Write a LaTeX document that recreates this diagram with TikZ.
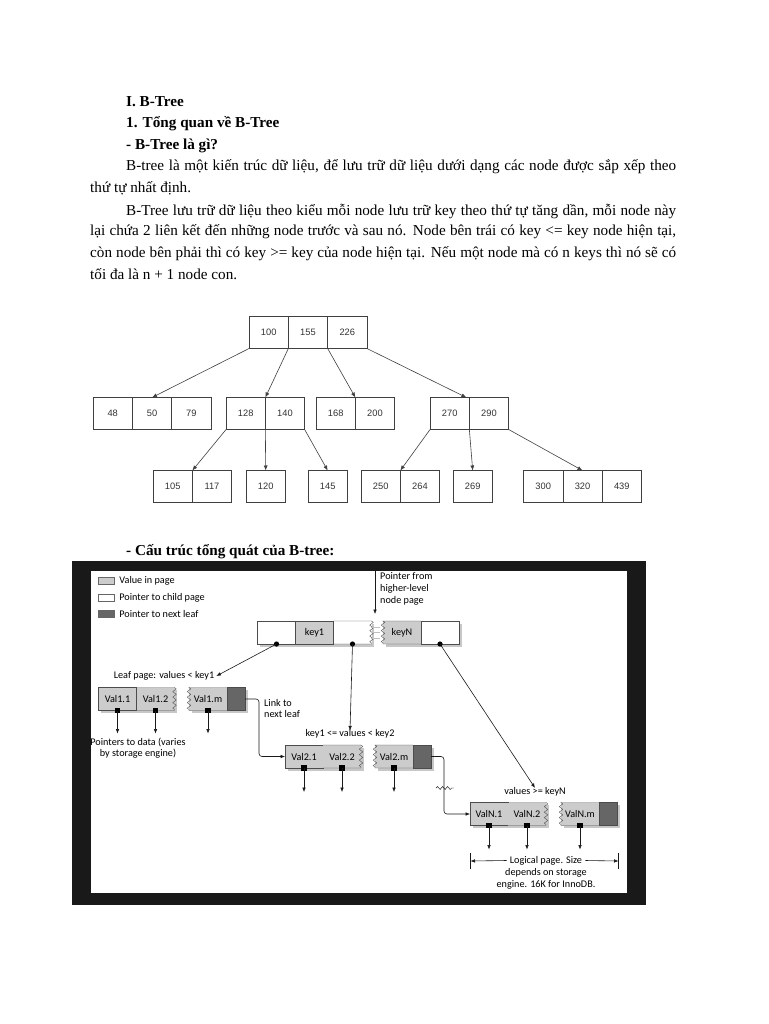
\documentclass[tikz,border=0pt]{standalone}
\usepackage{fontspec}
\setmainfont{Liberation Serif}
\newfontfamily\numfont{Liberation Sans}
\newfontfamily\figfont{Carlito}
\usetikzlibrary{arrows.meta,positioning,shadows,decorations.pathmorphing}

\begin{document}
\begin{tikzpicture}[x=1pt,y=-1pt,
  body/.style={anchor=base west,inner sep=0pt,font=\fontsize{15.2}{18}\selectfont},
  head/.style={body,font=\fontsize{15.2}{18}\selectfont\bfseries},
  key/.style={draw=black!75,minimum width=39.3pt,minimum height=32pt,outer sep=0pt,inner sep=0pt,
    text=black!80,font=\numfont\fontsize{9.3}{10}\selectfont},
  tarr/.style={-{Latex[length=5pt,width=4pt]},draw=black!75,line width=0.6pt},
  pg/.style={draw=black!70,fill=white,minimum width=38pt,minimum height=23pt,outer sep=0pt,inner sep=0pt,
    text=black,font=\figfont\fontsize{10.2}{11}\selectfont,
    drop shadow={shadow xshift=2.5pt,shadow yshift=-2.5pt,fill=black!22,opacity=1}},
  val/.style={pg,fill=black!20},
  nxt/.style={pg,fill=black!60,minimum width=18pt},
  torn/.style={draw=none},
  edge/.style={draw=black!70},
  zz/.style={decoration={zigzag,segment length=5.5pt,amplitude=1.8pt}},
  sqd/.style={fill=black,minimum size=5.5pt,inner sep=0pt,outer sep=0pt},
  ptr/.style={-{Latex[length=4.5pt,width=3.6pt]},draw=black!90,line width=0.6pt},
  lbl/.style={inner sep=0pt,text=black,font=\figfont\fontsize{10.2}{11}\selectfont},
  lg/.style={draw=black!60,minimum width=16pt,minimum height=7pt,inner sep=0pt}]
\useasboundingbox (0,0) rectangle (768,1024);
\fill[white] (0,0) rectangle (768,1024);

% Text
\node[head] (ttl) at (126,107) {I. B-Tree};
\node[head] (sub) at (126,128) {1. Tổng quan về B-Tree};
\node[head] (qst) at (126,150) {- B-Tree là gì?};
\node[body] (p1) at (126,171) {\makebox[550pt][s]{B-tree là một kiến trúc dữ liệu, để lưu trữ dữ liệu dưới dạng các node được sắp xếp theo}};
\node[body] (p2) at (90,193) {thứ tự nhất định.};
\node[body] (p3) at (126,215) {\makebox[550pt][s]{B-Tree lưu trữ dữ liệu theo kiểu mỗi node lưu trữ key theo thứ tự tăng dần, mỗi node này}};
\node[body] (p4) at (90,236) {\makebox[586pt][s]{lại chứa 2 liên kết đến những node trước và sau nó. Node bên trái có key <= key node hiện tại,}};
\node[body] (p5) at (90,258) {\makebox[586pt][s]{còn node bên phải thì có key >= key của node hiện tại. Nếu một node mà có n keys thì nó sẽ có}};
\node[body] (p6) at (90,279) {tối đa là n + 1 node con.};
\node[head] (sec) at (126,555) {- Cấu trúc tổng quát của B-tree:};

% B-tree example
\node[key] (r1) at (268.7,332.5) {100};
\node[key,right=0pt of r1] (r2) {155};
\node[key,right=0pt of r2] (r3) {226};

\node[key] (a1) at (112.7,413.5) {48};
\node[key,right=0pt of a1] (a2) {50};
\node[key,right=0pt of a2] (a3) {79};
\node[key] (b1) at (245.7,413.5) {128};
\node[key,right=0pt of b1] (b2) {140};
\node[key] (c1) at (335.7,413.5) {168};
\node[key,right=0pt of c1] (c2) {200};
\node[key] (d1) at (449.7,413.5) {270};
\node[key,right=0pt of d1] (d2) {290};

\node[key] (e1) at (172.7,486.5) {105};
\node[key,right=0pt of e1] (e2) {117};
\node[key] (f1) at (265.7,486.5) {120};
\node[key] (g1) at (327.7,486.5) {145};
\node[key] (h1) at (380.7,486.5) {250};
\node[key,right=0pt of h1] (h2) {264};
\node[key] (i1) at (472.7,486.5) {269};
\node[key] (j1) at (543.2,486.5) {300};
\node[key,right=0pt of j1] (j2) {320};
\node[key,right=0pt of j2] (j3) {439};

\draw[tarr] (r1.south west) -- (a2.north);
\draw[tarr] (r1.south east) -- (b1.north east);
\draw[tarr] (r2.south east) -- (c1.north east);
\draw[tarr] (r3.south east) -- ([xshift=-3pt]d1.north east);
\draw[tarr] (b1.south west) -- (e1.north east);
\draw[tarr] (b1.south east) -- (f1.north);
\draw[tarr] (b2.south east) -- (g1.north);
\draw[tarr] (d1.south west) -- (h1.north east);
\draw[tarr] (d1.south east) -- (i1.north);
\draw[tarr] (d2.south east) -- (j2.north);

% Frame of the structure figure
\fill[black!90] (72,561) rectangle (646,905);
\fill[white] (91,571) rectangle (627,893);

% Legend
\node[lg,fill=black!20] (lgv) at (106,580.5) {};
\node[lbl,anchor=west,right=5pt of lgv] (lgvt) {Value in page};
\node[lg,fill=white] (lgc) at (106,597.5) {};
\node[lbl,anchor=west,right=5pt of lgc] (lgct) {Pointer to child page};
\node[lg,fill=black!60] (lgn) at (106,614) {};
\node[lbl,anchor=west,right=5pt of lgn] (lgnt) {Pointer to next leaf};

% Node page
\node[pg] (k0) at (276.5,632.5) {};
\node[val,right=0pt of k0] (k1) {key1};
\node[pg,torn,right=0pt of k1] (k2) {};
\draw[edge] (k2.north west) -- (k2.north east) decorate[zz]{-- (k2.south east)} -- (k2.south west);
\node[val,torn] (kN) at (402,632.5) {keyN};
\node[pg,right=0pt of kN] (kN1) {};
\draw[edge] (kN.north east) -- (kN.north west) decorate[zz]{-- (kN.south west)} -- (kN.south east);
\draw[black!25] (371,627) -- (380,627) (371,632.5) -- (380,632.5) (371,638) -- (380,638);
\fill (k0.south) circle (2.6);
\fill (k2.south) circle (2.6);
\fill (kN1.south) circle (2.6);

\coordinate (hl) at (375,571);
\draw[ptr] (hl) -- ++(0,43);
\node[lbl,anchor=north west,align=left,font=\figfont\fontsize{10.2}{12.3}\selectfont] (hlp) at (380,572)
  {Pointer from\\higher-level\\node page};

% Leaf pages
\node[val] (v11) at (117.5,699) {Val1.1};
\node[val,torn,right=0pt of v11] (v12) {Val1.2};
\draw[edge] (v12.north west) -- (v12.north east) decorate[zz]{-- (v12.south east)} -- (v12.south west);
\node[val,torn] (v1m) at (208,699) {Val1.m};
\node[nxt,right=0pt of v1m] (v1p) {};
\draw[edge] (v1m.north east) -- (v1m.north west) decorate[zz]{-- (v1m.south west)} -- (v1m.south east);

\node[val] (v21) at (304,756.5) {Val2.1};
\node[val,torn,right=0pt of v21] (v22) {Val2.2};
\draw[edge] (v22.north west) -- (v22.north east) decorate[zz]{-- (v22.south east)} -- (v22.south west);
\node[val,torn] (v2m) at (394,756.5) {Val2.m};
\node[nxt,right=0pt of v2m] (v2p) {};
\draw[edge] (v2m.north east) -- (v2m.north west) decorate[zz]{-- (v2m.south west)} -- (v2m.south east);

\node[val] (vN1) at (489,814) {ValN.1};
\node[val,torn,right=0pt of vN1] (vN2) {ValN.2};
\draw[edge] (vN2.north west) -- (vN2.north east) decorate[zz]{-- (vN2.south east)} -- (vN2.south west);
\node[val,torn] (vNm) at (580,814) {ValN.m};
\node[nxt,right=0pt of vNm] (vNp) {};
\draw[edge] (vNm.north east) -- (vNm.north west) decorate[zz]{-- (vNm.south west)} -- (vNm.south east);

% Pointers to data
\node[sqd] (s11) at (v11.south) {};
\node[sqd] (s12) at (v12.south) {};
\node[sqd] (s1m) at (v1m.south) {};
\node[sqd] (s21) at (v21.south) {};
\node[sqd] (s22) at (v22.south) {};
\node[sqd] (s2m) at (v2m.south) {};
\node[sqd] (sN1) at (vN1.south) {};
\node[sqd] (sN2) at (vN2.south) {};
\node[sqd] (sNm) at (vNm.south) {};
\draw[ptr] (s11.center) -- ++(0,23);
\draw[ptr] (s12.center) -- ++(0,23);
\draw[ptr] (s1m.center) -- ++(0,23);
\draw[ptr] (s21.center) -- ++(0,24);
\draw[ptr] (s22.center) -- ++(0,24);
\draw[ptr] (s2m.center) -- ++(0,24);
\draw[ptr] (sN1.center) -- ++(0,24);
\draw[ptr] (sN2.center) -- ++(0,24);
\draw[ptr] (sNm.center) -- ++(0,24);

% Labels
\node[lbl] (lpl) at (164,676) {Leaf page: values < key1};
\node[lbl] (k12) at (350,734) {key1 <= values < key2};
\node[lbl] (vkn) at (535,791.5) {values >= keyN};
\node[lbl,align=center,font=\figfont\fontsize{10.2}{10.4}\selectfont] (ptd) at (138,748)
  {Pointers to data (varies\\by storage engine)};
\node[lbl,anchor=north west,align=left,font=\figfont\fontsize{10.2}{10.4}\selectfont] (lnl) at (264,699.5)
  {Link to\\next leaf};

\draw[ptr] (k0.south) -- ([xshift=2pt]lpl.east);
\draw[ptr] (k2.south) -- ([yshift=-1pt]k12.north);
\draw[ptr] (kN1.south) -- ([yshift=-1pt]vkn.north);

% Links between leaves
\draw[ptr,rounded corners=3pt] (v1p.east) -- ++(14,0) |- (v21.west);
\draw[ptr,rounded corners=3pt] (v2p.east) -- ++(13,0) |- (vN1.west);
\draw[decorate,decoration={snake,segment length=5pt,amplitude=1.5pt}] (436,788) -- (454,788);

% Logical page size
\node[lbl] (lg1) at (546,860.5) {Logical page. Size};
\node[lbl,align=center,font=\figfont\fontsize{10.2}{12.3}\selectfont] (lg2) at (546,879) {depends on storage\\engine. 16K for InnoDB.};
\coordinate (bl) at (470.5,861);
\coordinate (br) at (618.5,861);
\draw[black!90,line width=0.6pt] ([yshift=8pt]bl) -- ([yshift=-8pt]bl);
\draw[black!90,line width=0.6pt] ([yshift=8pt]br) -- ([yshift=-8pt]br);
\draw[ptr] ([xshift=-3pt]lg1.west) -- (bl);
\draw[ptr] ([xshift=3pt]lg1.east) -- (br);
\end{tikzpicture}
\end{document}
